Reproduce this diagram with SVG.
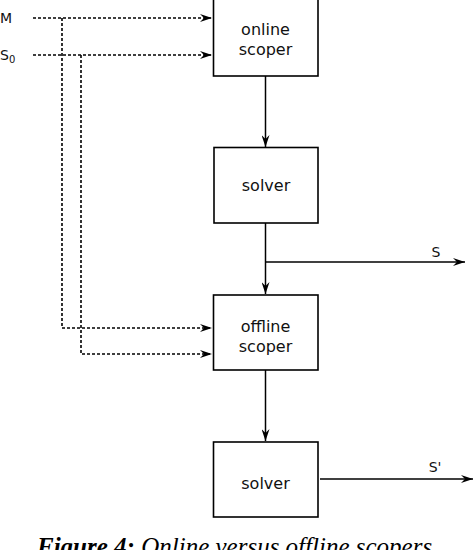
<svg xmlns="http://www.w3.org/2000/svg" width="474" height="550" viewBox="0 0 474 550">
<style>
.box{fill:#fff;stroke:#000;stroke-width:1.6}
.lbl{font-family:"DejaVu Sans",sans-serif;font-size:16px;fill:#111;text-anchor:middle}
.in{font-family:"DejaVu Sans",sans-serif;font-size:14px;fill:#111}
.solid{fill:none;stroke:#000;stroke-width:1.5}
.dash{fill:none;stroke:#000;stroke-width:1.6;stroke-dasharray:3 2}
.cap{font-family:"Liberation Serif",serif;font-size:25px;font-style:italic;fill:#000}
</style>
<defs>
<marker id="ah" viewBox="0 0 12 8" refX="12" refY="4" markerWidth="12" markerHeight="8" markerUnits="userSpaceOnUse" orient="auto">
<path d="M0,0 L12,4 L0,8 L4,4 z" fill="#000"/>
</marker>
</defs>
<rect width="474" height="550" fill="#fff"/>
<g id="connectors">
<path class="dash" d="M33,18 H212" marker-end="url(#ah)"/>
<path class="dash" d="M33,55 H212" marker-end="url(#ah)"/>
<path class="dash" d="M62,18 V328 H212" marker-end="url(#ah)"/>
<path class="dash" d="M81,55 V354 H212" marker-end="url(#ah)"/>
<path class="solid" d="M265.5,76 V147" marker-end="url(#ah)"/>
<path class="solid" d="M265.5,223 V294" marker-end="url(#ah)"/>
<path class="solid" d="M265.5,262 H465" marker-end="url(#ah)"/>
<path class="solid" d="M265.5,370 V441" marker-end="url(#ah)"/>
<path class="solid" d="M320,479 H473" marker-end="url(#ah)"/>
</g>
<g id="input-M"><text class="in" x="0" y="23">M</text></g>
<g id="input-S0"><text class="in" x="0" y="60">S<tspan font-size="10" dy="3">0</tspan></text></g>
<g id="online-scoper">
<rect class="box" x="213.5" y="-1" width="104.5" height="77"/>
<text class="lbl" x="265.5" y="35">online</text>
<text class="lbl" x="265.5" y="55">scoper</text>
</g>
<g id="solver1">
<rect class="box" x="214" y="147.5" width="104" height="75.5"/>
<text class="lbl" x="266" y="191">solver</text>
</g>
<g id="offline-scoper">
<rect class="box" x="213.5" y="295" width="104.5" height="75"/>
<text class="lbl" x="265.5" y="332">offline</text>
<text class="lbl" x="265.5" y="352">scoper</text>
</g>
<g id="solver2">
<rect class="box" x="213.5" y="442" width="104.5" height="75"/>
<text class="lbl" x="265.5" y="489">solver</text>
</g>
<g id="output-S"><text class="in" x="436" y="257" text-anchor="middle">S</text></g>
<g id="output-S2"><text class="in" x="435" y="472" text-anchor="middle">S'</text></g>
<text class="cap" x="37" y="555"><tspan font-weight="bold">Figure 4:</tspan> Online versus offline scopers</text>
</svg>
